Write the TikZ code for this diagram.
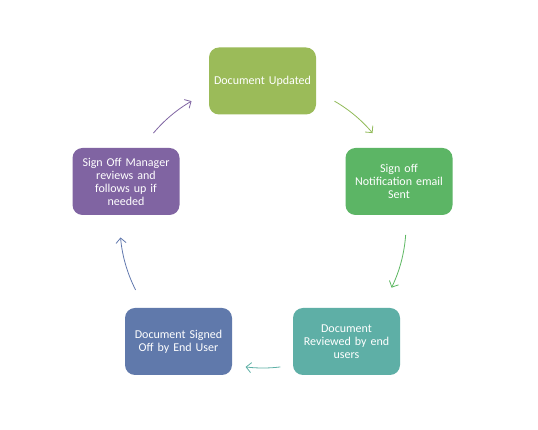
\documentclass[tikz,border=0pt]{standalone}
\usepackage{fontspec}
\setmainfont{Carlito}[WordSpace={0.8,0.5,0.5}]
\usetikzlibrary{calc,arrows.meta}
\definecolor{updfill}{HTML}{9BBB59}
\definecolor{notefill}{HTML}{5CB565}
\definecolor{revfill}{HTML}{5EAFA6}
\definecolor{signfill}{HTML}{6079AB}
\definecolor{mgrfill}{HTML}{8064A2}
\definecolor{updline}{HTML}{92BB5A}
\definecolor{noteline}{HTML}{5DB862}
\definecolor{revline}{HTML}{5EB0A6}
\definecolor{signline}{HTML}{6178AE}
\definecolor{mgrline}{HTML}{8065A3}
\tikzset{
	stagebox/.style={rounded corners=10pt, minimum width=107pt, minimum height=67pt,
		text width=104pt, align=center, text=white, font=\fontsize{12}{13}\selectfont, inner sep=0pt},
	cyclearrow/.style={line width=0.8pt, -{Straight Barb[length=5pt,width=10pt]}}
}
% arc of the cycle circle, clockwise from #2 to #3 degrees
\newcommand\cyclearc[3]{\draw[cyclearrow,#1] ($(ctr)+(#2:143)$) arc[start angle=#2, end angle=#3, radius=143pt];}

\begin{document}
\begin{tikzpicture}[x=1pt,y=1pt]
		%%%%% START %%%%%
		\fill[white] (0,0) rectangle (538,430);
		\useasboundingbox (0,0) rectangle (538,430);
		\coordinate (ctr) at (263,205);
		
		\node[stagebox, fill=updfill] (upd) at (262.5,349) {Document Updated};
		\node[stagebox, fill=notefill] (note) at (399,248.5) {Sign off\\Notification email\\Sent};
		\node[stagebox, fill=revfill] (rev) at (346.5,88.5) {Document\\Reviewed by end\\users};
		\node[stagebox, fill=signfill] (sign) at (178.5,88.5) {Document Signed\\Off by End User};
		\node[stagebox, fill=mgrfill] (mgr) at (126,248.5) {Sign Off Manager\\reviews and\\follows up if\\needed};
		
		\cyclearc{updline}{60}{40}
		\cyclearc{noteline}{-4}{-26}
		\cyclearc{revline}{-83}{-97}
		\cyclearc{signline}{207}{185}
		\cyclearc{mgrline}{140}{120}
		%%%%% END %%%%%
	\end{tikzpicture}
\end{document}
